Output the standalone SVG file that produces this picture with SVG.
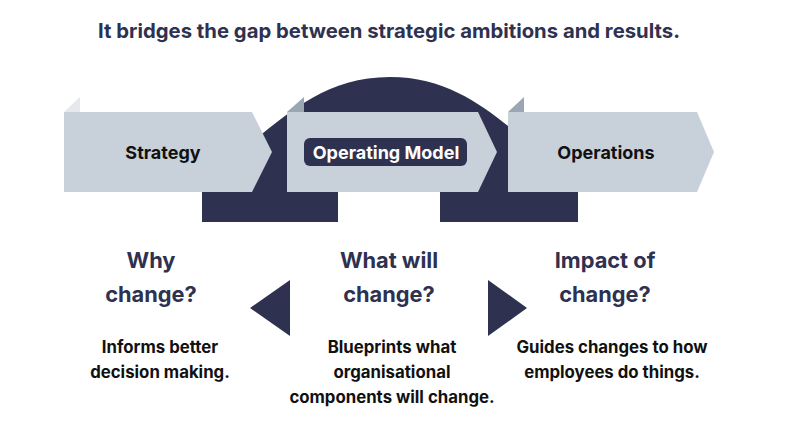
<svg xmlns="http://www.w3.org/2000/svg" width="800" height="426" viewBox="0 0 800 426">
<style>
text{font-family:"Inter","Liberation Sans",sans-serif;font-weight:bold;text-anchor:middle}
.t{fill:#2e3150;font-size:21.8px}
.d{fill:#111;font-size:16.8px}
.l{font-size:18px}
.a{fill:#c8d0da}
.dk{fill:#2e3150}
</style>
<rect width="800" height="426" fill="#fff"/>
<text x="389" y="38" class="t" style="font-size:20.3px">It bridges the gap between strategic ambitions and results.</text>
<g id="bridge"><path class="dk" d="M202,222 L202,175 C260,150 300,77 390,77 C480,77 520,150 578,175 L578,222 L440,222 L440,192 L338,192 L338,222 Z"/></g>
<g id="strategy">
<polygon points="64,112 80,97 80,112" fill="#e6e8ec"/>
<polygon class="a" points="64,112 252,112 272,152 252,192 64,192"/>
<text x="163" y="159" class="d l">Strategy</text>
</g>
<g id="opmodel">
<polygon points="287,112 304,97 304,112" fill="#9aa6b2"/>
<polygon class="a" points="287,112 478,112 497,152 478,192 287,192"/>
<rect x="304" y="138" width="163" height="28" rx="6" class="dk"/>
<text x="386" y="159" class="l" style="fill:#fff">Operating Model</text>
</g>
<g id="operations">
<polygon points="508,112 524,97 524,112" fill="#9aa6b2"/>
<polygon class="a" points="508,112 697,112 714,152 697,192 508,192"/>
<text x="606" y="159" class="d l">Operations</text>
</g>
<g id="why">
<text x="151" y="268" class="t">Why</text><text x="151" y="302" class="t">change?</text>
<text x="160" y="353" class="d">Informs better</text><text x="160" y="378" class="d">decision making.</text>
</g>
<g id="what">
<text x="389" y="268" class="t">What will</text><text x="389" y="302" class="t">change?</text>
<text x="392" y="353" class="d">Blueprints what</text><text x="392" y="378" class="d">organisational</text><text x="392" y="403" class="d">components will change.</text>
</g>
<g id="impact">
<text x="605" y="268" class="t">Impact of</text><text x="605" y="302" class="t">change?</text>
<text x="612" y="353" class="d">Guides changes to how</text><text x="612" y="378" class="d">employees do things.</text>
</g>
<g id="connectors">
<polygon class="dk" points="290,280 290,336 250,308"/>
<polygon class="dk" points="488,280 488,336 527,308"/>
</g>
</svg>
